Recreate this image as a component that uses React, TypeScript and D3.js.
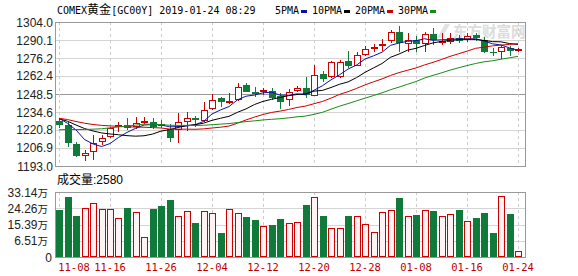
import React from 'react';
import * as d3 from 'd3';

const dates = ["11-08","11-09","11-12","11-13","11-14","11-15","11-16","11-19","11-20","11-21","11-22","11-23","11-26","11-27","11-28","11-29","11-30","12-03","12-04","12-05","12-06","12-07","12-10","12-11","12-12","12-13","12-14","12-17","12-18","12-19","12-20","12-21","12-24","12-25","12-26","12-27","12-28","12-31","01-02","01-03","01-04","01-07","01-08","01-09","01-10","01-11","01-14","01-15","01-16","01-17","01-18","01-21","01-22","01-23","01-24"];
const tickDates = ["11-08","11-16","11-26","12-04","12-12","12-20","12-28","01-08","01-16","01-24"];

const open = [1227.9,1224.6,1209.9,1200.7,1203.6,1211.7,1215.1,1222.8,1224.6,1222.8,1226.9,1226.7,1225.6,1221.5,1220.8,1226.9,1230.2,1227.9,1236.7,1245.2,1242.6,1243.9,1255.4,1249.7,1249.8,1250.8,1247.0,1243.9,1250.8,1253.5,1247.2,1263.9,1261.4,1261.4,1273.9,1270.3,1278.2,1283.9,1286.3,1289.4,1296.3,1287.0,1290.5,1286.8,1295.1,1287.8,1288.4,1292.0,1290.1,1294.2,1290.5,1281.1,1281.1,1283.7,1282.4];
const high = [1229.8,1227.2,1211.7,1205.3,1216.7,1216.9,1223.3,1227.2,1229.8,1230.8,1230.5,1230.2,1228.5,1225.0,1234.2,1234.9,1231.5,1242.1,1248.3,1246.4,1249.5,1256.7,1257.2,1254.1,1252.9,1252.9,1249.0,1252.7,1254.3,1261.8,1270.5,1266.5,1273.9,1274.7,1282.0,1281.1,1285.3,1287.4,1290.7,1297.8,1301.3,1295.5,1293.2,1296.5,1299.1,1295.9,1295.3,1294.0,1295.5,1295.7,1292.7,1283.7,1286.3,1285.5,1284.3];
const low = [1222.1,1207.4,1200.2,1196.5,1197.6,1209.2,1214.6,1219.0,1221.1,1221.5,1225.4,1221.9,1222.1,1211.3,1210.4,1220.0,1223.3,1227.3,1236.2,1238.7,1240.6,1243.3,1249.8,1246.4,1247.7,1243.9,1236.7,1239.6,1250.0,1245.2,1246.6,1257.4,1261.1,1260.8,1268.3,1269.7,1277.8,1280.9,1281.6,1287.8,1280.5,1281.1,1280.5,1281.1,1286.3,1286.3,1287.4,1287.6,1288.8,1289.4,1280.1,1277.8,1275.2,1277.8,1281.2];
const close = [1224.6,1210.5,1200.9,1203.3,1210.9,1214.4,1222.1,1224.4,1222.5,1226.4,1227.7,1223.3,1223.8,1214.8,1227.2,1230.0,1228.2,1236.2,1243.9,1242.6,1243.1,1254.1,1250.3,1248.3,1251.4,1245.6,1242.6,1250.3,1253.1,1248.1,1263.1,1259.8,1272.8,1272.8,1270.1,1278.6,1283.2,1284.7,1287.0,1296.3,1287.6,1290.1,1286.8,1294.7,1290.1,1289.7,1291.3,1289.6,1293.2,1291.9,1280.9,1280.3,1285.0,1281.9,1282.9];
// volume in 万
const volume = [24.0,30.7,20.9,24.8,27.4,24.5,24.5,19.7,24.8,22.8,10.4,24.5,26.0,29.1,20.9,23.6,17.5,23.6,22.3,12.4,24.3,22.3,20.4,18.9,15.8,16.3,19.4,17.5,17.7,26.5,30.4,20.9,14.6,14.6,20.9,20.9,16.8,12.7,22.9,24.0,30.1,20.9,21.4,24.0,23.4,20.9,21.9,24.0,18.4,19.9,22.4,12.4,31.1,22.1,3.1];

const ma5 = [1229.8,1225.9,1220.8,1213.4,1210.0,1208.0,1210.3,1215.0,1218.9,1222.0,1224.6,1224.9,1224.7,1223.2,1223.4,1223.8,1224.8,1227.3,1233.1,1236.2,1238.8,1244.0,1246.8,1247.7,1249.4,1249.9,1247.6,1247.6,1248.6,1247.9,1251.4,1254.9,1259.4,1263.3,1267.7,1270.8,1275.5,1277.9,1280.7,1286.0,1287.8,1289.1,1289.6,1291.1,1289.9,1290.3,1290.5,1291.1,1290.8,1291.1,1289.4,1287.2,1286.3,1284.0,1282.2];
const ma10 = [1229.5,1227.5,1224.6,1221.9,1220.0,1218.5,1217.7,1217.1,1216.4,1216.0,1216.3,1217.6,1219.9,1221.0,1222.7,1224.2,1224.8,1226.0,1228.2,1229.8,1231.3,1234.4,1237.0,1240.4,1242.8,1244.4,1245.8,1247.2,1248.1,1248.7,1250.7,1251.3,1253.5,1256.0,1257.8,1261.1,1265.2,1268.6,1272.0,1276.8,1279.3,1282.3,1283.7,1285.9,1287.9,1289.0,1289.8,1290.3,1290.9,1290.5,1289.8,1288.9,1288.7,1287.4,1286.7];
const ma20 = [1229.8,1228.8,1227.3,1226.0,1225.0,1224.3,1223.9,1223.6,1223.2,1223.0,1222.9,1222.6,1222.3,1221.5,1221.4,1221.4,1221.3,1221.6,1222.3,1222.9,1223.8,1226.0,1228.5,1230.7,1232.7,1234.3,1235.3,1236.6,1238.1,1239.2,1241.0,1242.8,1245.3,1248.2,1250.3,1252.8,1255.5,1257.9,1260.1,1262.8,1265.0,1266.8,1268.6,1270.9,1272.9,1275.1,1277.5,1279.5,1281.5,1283.7,1284.6,1285.6,1286.2,1286.7,1287.3];
const ma30 = [1220.9,1221.2,1221.1,1221.1,1221.4,1221.7,1222.4,1223.1,1223.7,1224.5,1225.3,1225.1,1224.9,1224.4,1224.3,1224.3,1224.2,1224.4,1224.8,1225.3,1225.7,1226.5,1227.2,1227.8,1228.5,1229.0,1229.4,1230.1,1230.9,1231.5,1232.8,1234.4,1236.8,1239.1,1241.1,1243.2,1245.3,1247.3,1249.4,1251.8,1253.8,1256.0,1258.1,1260.8,1262.9,1264.8,1266.9,1268.7,1270.4,1272.0,1273.3,1274.1,1275.3,1276.4,1277.5];

const priceTicks = [1304.0,1290.1,1276.2,1262.4,1248.5,1234.6,1220.8,1206.9,1193.0];
const volTickLabels = ["33.14", "24.26", "15.39", "6.51", "0"];
const legendNames = ["5PMA","10PMA","20PMA","30PMA"];

const C_UP = "#cc0000";
const C_DOWN = "#107a3a";
const maColors = ["#1010a0", "#000000", "#cc0000", "#1a8a1a"];
const mono = "'DejaVu Sans Mono', 'Liberation Mono', monospace";
const sans = "'Liberation Sans', Arial, sans-serif";
const cjk = "'Noto Sans CJK SC', sans-serif";

export default function App() {
  const W = 578, H = 276;
  const L = 55.5, R = 525.5, T = 22, B = 166;
  const VT = 192, VB = 257;
  const n = close.length;
  const x = d3.scaleLinear().domain([0, n - 1]).range([59, 518]);
  const y = d3.scaleLinear().domain([1193, 1304]).range([B, T]);
  const vy = d3.scaleLinear().domain([0, 33.14]).range([VB, VT]);
  const vGrid = d3.scaleLinear().domain([0, volTickLabels.length - 1]).range([VT, VB]);
  const line = d3.line<number>().x((_, i) => x(i)).y(d => y(d));
  const tickIdx = tickDates.map(d => dates.indexOf(d));
  const mid = priceTicks[Math.floor(priceTicks.length / 2)];

  // legend layout
  let lx = 275;
  const legend = legendNames.map((name, k) => {
    const tx = lx;
    const sx = tx + name.length * 6 + 2;
    lx = sx + 6 + 5;
    return { name, tx, sx, color: maColors[k] };
  });

  return (
    <div style={{ position: 'absolute', left: 0, top: 0 }}>
      <svg width={W} height={H} style={{ display: 'block', background: '#fff' }}>
        {/* title */}
        <text x={57} y={14} fontFamily={mono} fontSize={10} fill="#000">
          COMEX<tspan fontFamily={cjk} fontSize={12}>黄金</tspan>[GC00Y] 2019-01-24 08:29
        </text>
        {legend.map(l => (
          <g key={l.name}>
            <text x={l.tx} y={14} fontFamily={mono} fontSize={10} fill="#000">{l.name}</text>
            <rect x={l.sx} y={10} width={6} height={3} fill={l.color} />
          </g>
        ))}

        {/* watermark */}
        <text x={453} y={37} fontFamily={cjk} fontSize={14.5} fontWeight="bold" fill="#dcdcdc">东方财富网</text>
        <path d="M437,38 L445,24 L450,24 L442,38 Z" fill="#e2e2e2" />

        {/* main grid */}
        {priceTicks.map(p => (
          <line key={p} x1={L} x2={R} y1={Math.round(y(p)) + 0.5} y2={Math.round(y(p)) + 0.5}
            stroke={p === mid ? "#999" : "#d4d4d4"} />
        ))}
        {tickIdx.map(i => (
          <line key={'v' + i} x1={Math.round(x(i)) + 0.5} x2={Math.round(x(i)) + 0.5} y1={T} y2={B}
            stroke="#ccc" strokeDasharray="3,3" />
        ))}
        <rect x={L} y={T + 0.5} width={R - L} height={B - T} fill="none" stroke="#999" />
        {priceTicks.map(p => (
          <text key={'t' + p} x={53} y={y(p) + 4.5} textAnchor="end" fontFamily={sans} fontSize={12} fill="#222">
            {p.toFixed(1)}
          </text>
        ))}

        {/* candles */}
        {close.map((c, i) => {
          const cx = Math.round(x(i));
          const up = c >= open[i];
          const col = up ? C_UP : C_DOWN;
          const yt = Math.round(y(Math.max(open[i], c)));
          const yb = Math.round(y(Math.min(open[i], c)));
          const hh = Math.max(1, yb - yt);
          return (
            <g key={'c' + i}>
              <line x1={cx + 0.5} x2={cx + 0.5} y1={Math.round(y(high[i]))} y2={Math.round(y(low[i]))} stroke={col} />
              {up ? (
                <rect x={cx - 2.5} y={yt + 0.5} width={6} height={Math.max(1, hh - 1)} fill="#fff" stroke={col} />
              ) : (
                <rect x={cx - 3} y={yt} width={7} height={hh} fill={col} />
              )}
            </g>
          );
        })}

        {/* moving averages */}
        {[ma5, ma10, ma20, ma30].map((m, k) => (
          <path key={'ma' + k} d={line(m) || ''} fill="none" stroke={maColors[k]} strokeWidth={1} />
        ))}

        {/* volume */}
        <text x={57} y={184} fill="#000">
          <tspan fontFamily={cjk} fontSize={12}>成交量</tspan>
          <tspan fontFamily={sans} fontSize={12}>:2580</tspan>
        </text>
        {volTickLabels.map((t, k) => (
          <line key={'vg' + k} x1={L} x2={R} y1={Math.round(vGrid(k)) + 0.5} y2={Math.round(vGrid(k)) + 0.5} stroke="#d4d4d4" />
        ))}
        {tickIdx.map(i => (
          <line key={'vv' + i} x1={Math.round(x(i)) + 0.5} x2={Math.round(x(i)) + 0.5} y1={VT} y2={VB}
            stroke="#ccc" strokeDasharray="3,3" />
        ))}
        <rect x={L} y={VT + 0.5} width={R - L} height={VB - VT} fill="none" stroke="#999" />
        {volTickLabels.map((t, k) => (
          <text key={'vt' + k} x={t === "0" ? 52 : 48} y={vGrid(k) + 4.5} textAnchor="end" fontFamily={sans} fontSize={12} fill="#222">
            {t}{t !== "0" && <tspan fontFamily={cjk} fontSize={10.5}>万</tspan>}
          </text>
        ))}
        {volume.map((v, i) => {
          const cx = Math.round(x(i));
          const up = close[i] >= open[i];
          const yt = Math.round(vy(v));
          return up ? (
            <rect key={'b' + i} x={cx - 2.5} y={yt + 0.5} width={6} height={VB - yt - 1} fill="#fff2f2" stroke={C_UP} />
          ) : (
            <rect key={'b' + i} x={cx - 3} y={yt} width={7} height={VB - yt} fill={C_DOWN} />
          );
        })}
        {tickIdx.map((i, k) => {
          const cx = Math.max(x(i), 74);
          return (
            <text key={'d' + k} x={cx} y={271} textAnchor="middle" fontFamily={mono} fontSize={10.5} fill="#c00000">
              {tickDates[k]}
            </text>
          );
        })}
      </svg>
    </div>
  );
}
